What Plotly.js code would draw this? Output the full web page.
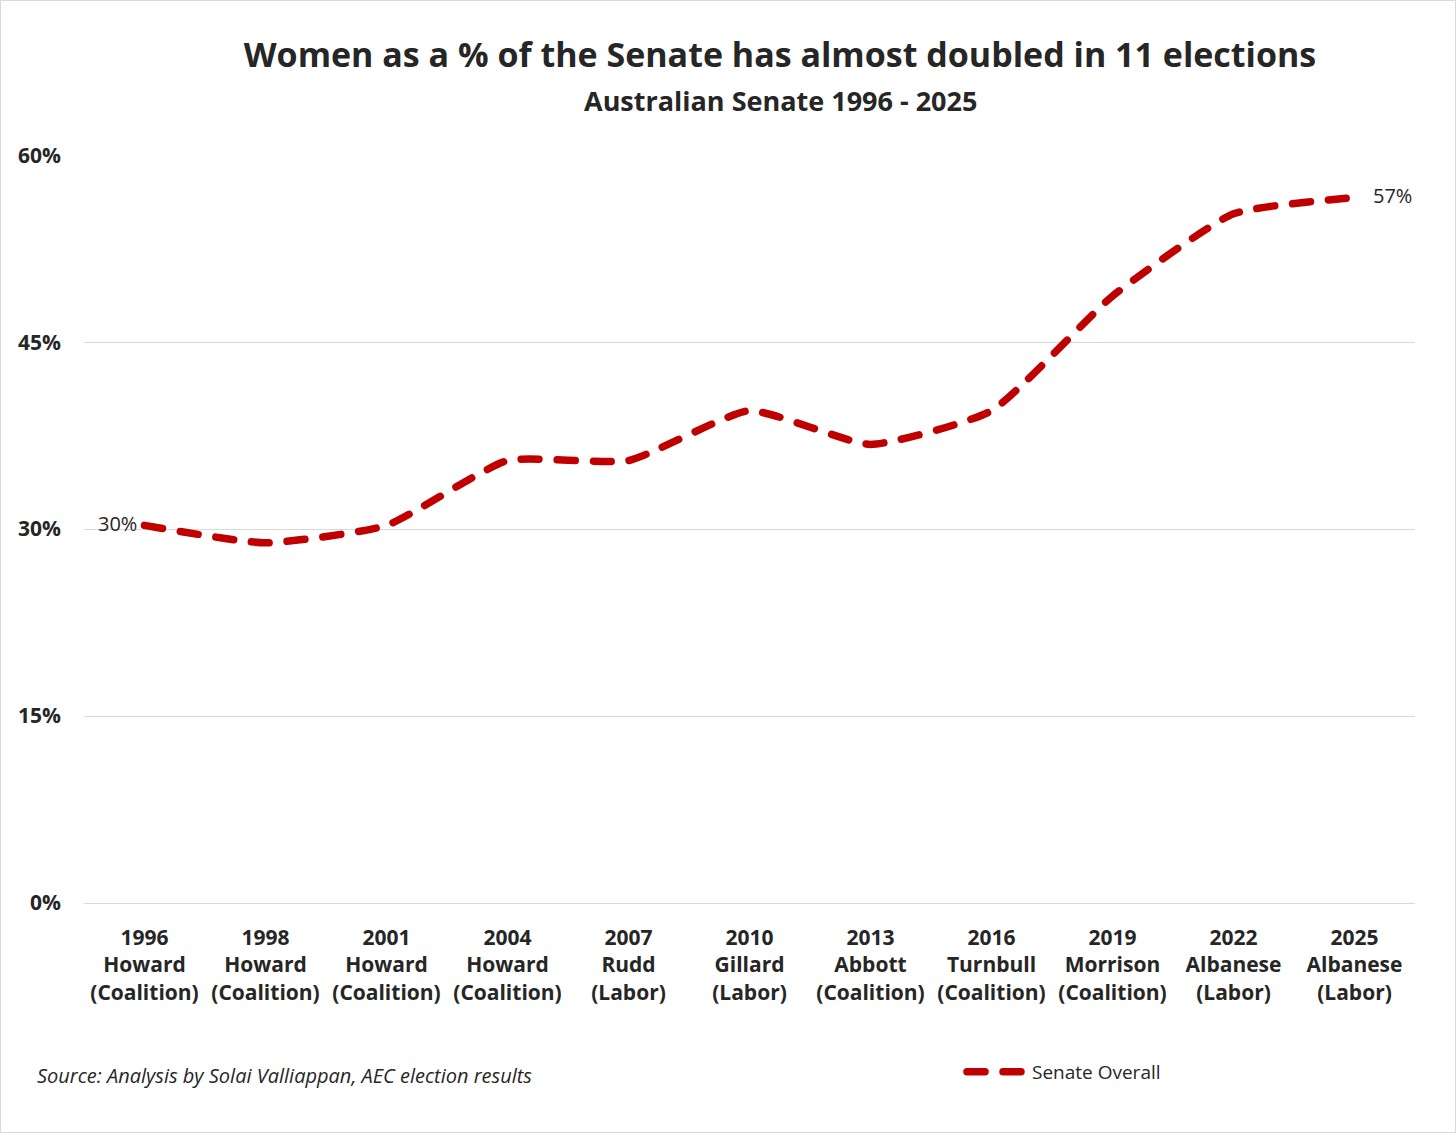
<!DOCTYPE html>
<html>
<head>
<meta charset="utf-8">
<script src="https://cdn.plot.ly/plotly-3.0.1.min.js"></script>
<style>
  html, body { margin: 0; padding: 0; background: #fff; }
  #chart { width: 1456px; height: 1133px; }
  #frame { position: fixed; left: 0; top: 0; width: 1454px; height: 1131px; border: 1px solid #d9d9d9; pointer-events: none; }
  .scatterlayer .js-line, .legend .js-line { stroke-linecap: round; }
</style>
</head>
<body>
<div id="chart"></div>
<div id="frame"></div>
<script>
// Data
const years = ["1996", "1998", "2001", "2004", "2007", "2010", "2013", "2016", "2019", "2022", "2025"];
const leaders = ["Howard", "Howard", "Howard", "Howard", "Rudd", "Gillard", "Abbott", "Turnbull", "Morrison", "Albanese", "Albanese"];
const parties = ["Coalition", "Coalition", "Coalition", "Coalition", "Labor", "Labor", "Coalition", "Coalition", "Coalition", "Labor", "Labor"];
const womenPct = [30.3, 28.9, 30.3, 35.5, 35.5, 39.5, 36.8, 39.5, 48.7, 55.3, 56.6];
const yTicks = [0, 15, 30, 45, 60];

const categories = years.map((y, i) => y + "<br>" + leaders[i] + "<br>(" + parties[i] + ")");
const lastIdx = womenPct.length - 1;

const FONT = "Open Sans, Noto Sans, sans-serif";
const TXT = "#262626";

const trace = {
  type: "scatter",
  mode: "lines",
  name: "Senate Overall",
  x: categories,
  y: womenPct,
  line: { color: "#C00000", width: 7.5, dash: "18px,18px", shape: "spline", smoothing: 0.5 },
  hoverinfo: "skip",
  cliponaxis: false
};

const plotL = 84, plotR = 1415, plotT = 155, plotB = 903;
const W = 1456, H = 1133;
const pw = plotR - plotL, ph = plotB - plotT;

const endLabels = [
  { i: 0, anchor: "right", shift: -6 },
  { i: lastIdx, anchor: "left", shift: 16 }
].map(o => ({
  text: Math.round(womenPct[o.i]) + "%",
  x: categories[o.i], y: womenPct[o.i],
  xref: "x", yref: "y",
  xanchor: o.anchor, yanchor: "middle",
  xshift: o.shift, yshift: 2,
  showarrow: false,
  font: { family: FONT, size: 20, color: TXT }
}));

const layout = {
  width: W, height: H,
  paper_bgcolor: "#ffffff",
  plot_bgcolor: "#ffffff",
  margin: { l: plotL, r: W - plotR, t: plotT, b: H - plotB, pad: 0 },
  font: { family: FONT, color: TXT },
  title: {
    text: "<b>Women as a % of the Senate has almost doubled in 11 elections</b>",
    font: { family: FONT, size: 34, color: TXT },
    x: 780 / W, xref: "container", xanchor: "center",
    y: 1 - 55 / H, yref: "container", yanchor: "middle"
  },
  xaxis: {
    type: "category",
    range: [-0.5, years.length - 0.5],
    showgrid: false,
    showline: false,
    zeroline: false,
    ticks: "",
    tickfont: { family: FONT, size: 21, color: TXT, weight: "bold" },
    ticklabelstandoff: 20,
    fixedrange: true
  },
  yaxis: {
    range: [0, 60.02],
    tickvals: yTicks,
    ticktext: yTicks.map(v => "<b>" + v + "%</b>"),
    showgrid: true,
    gridcolor: "#d9d9d9",
    gridwidth: 1,
    zeroline: true,
    zerolinecolor: "#d9d9d9",
    zerolinewidth: 1,
    showline: false,
    ticks: "",
    tickfont: { family: FONT, size: 21, color: TXT },
    ticklabelstandoff: 22,
    fixedrange: true
  },
  showlegend: true,
  legend: {
    orientation: "h",
    x: (962 - plotL) / pw, xanchor: "left",
    y: (plotB - 1072) / ph, yanchor: "middle",
    itemwidth: 60,
    font: { family: FONT, size: 19, color: TXT },
    bgcolor: "rgba(0,0,0,0)"
  },
  annotations: [
    {
      text: "<b>Australian Senate 1996 - 2025</b>",
      xref: "paper", yref: "paper",
      x: (780 - plotL) / pw, xanchor: "center",
      y: (plotB - 100) / ph, yanchor: "middle",
      showarrow: false,
      font: { family: FONT, size: 27, color: TXT }
    },
    {
      text: "<i>Source: Analysis by Solai Valliappan, AEC election results</i>",
      xref: "paper", yref: "paper",
      x: (35 - plotL) / pw, xanchor: "left",
      y: (plotB - 1075) / ph, yanchor: "middle",
      showarrow: false,
      font: { family: FONT, size: 20, color: TXT }
    }
  ].concat(endLabels)
};

Plotly.newPlot("chart", [trace], layout, { displayModeBar: false, staticPlot: true });
</script>
</body>
</html>
